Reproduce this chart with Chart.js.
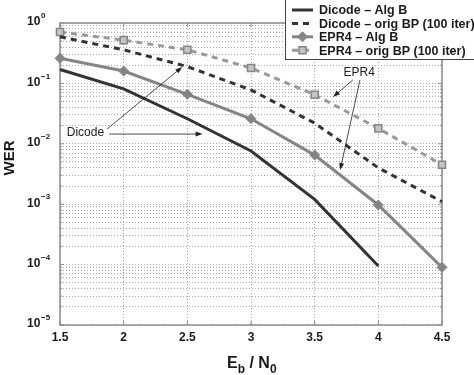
<!DOCTYPE html>
<html>
<head>
<meta charset="utf-8">
<script src="https://cdn.jsdelivr.net/npm/chart.js@4/dist/chart.umd.min.js"></script>
<style>
  html, body { margin: 0; padding: 0; background: #fff; }
  #wrap { width: 474px; height: 375px; position: relative; }
</style>
</head>
<body>
<div id="wrap"><canvas id="c"></canvas></div>
<script>
// Eb/N0 values (x axis)
var ebn0 = [1.5, 2, 2.5, 3, 3.5, 4, 4.5];

// WER per curve
var dicodeAlgB   = [0.17, 0.081, 0.026, 0.0076, 0.0012, 0.000095, null];
var dicodeOrigBP = [0.59, 0.36, 0.19, 0.078, 0.022, 0.004, 0.0011];
var epr4AlgB     = [0.26, 0.16, 0.066, 0.026, 0.0065, 0.00097, 0.00009];
var epr4OrigBP   = [0.71, 0.52, 0.36, 0.18, 0.065, 0.018, 0.0045];

var seriesLabels = [
  "Dicode \u2013 Alg B",
  "Dicode \u2013 orig BP (100 iter)",
  "EPR4 \u2013 Alg B",
  "EPR4 \u2013 orig BP (100 iter)"
];

var xTicks = [1.5, 2, 2.5, 3, 3.5, 4, 4.5];
var yDecades = [-5, -4, -3, -2, -1, 0];   // exponents for 10^k labels

// annotation text + arrows, in data units
var notes = [
  { text: "Dicode", x: 1.70, y: 0.0151 },
  { text: "EPR4",   x: 3.85, y: 0.149 }
];
var arrows = [
  { from: [1.885, 0.0145], to: [2.62, 0.0145] },
  { from: [1.87, 0.0176],  to: [2.46, 0.187] },
  { from: [3.80, 0.114],   to: [3.644, 0.0596] },
  { from: [3.856, 0.114],  to: [3.70, 0.00368] }
];

var DARK = "#333333";
var GRAY = "#858585";
var LGRAY = "#999999";
var FONT = "'Liberation Sans', Arial, sans-serif";

function pts(vals) {
  var out = [];
  for (var i = 0; i < ebn0.length; i++) {
    if (vals[i] != null) out.push({ x: ebn0[i], y: vals[i] });
  }
  return out;
}

// little helper: arrow with filled head
function drawArrow(ctx, x1, y1, x2, y2) {
  var ang = Math.atan2(y2 - y1, x2 - x1);
  var hl = 7, hw = 2.5;
  ctx.beginPath();
  ctx.moveTo(x1, y1);
  ctx.lineTo(x2 - Math.cos(ang) * hl * 0.8, y2 - Math.sin(ang) * hl * 0.8);
  ctx.stroke();
  ctx.beginPath();
  ctx.moveTo(x2, y2);
  ctx.lineTo(x2 - hl * Math.cos(ang) + hw * Math.sin(ang), y2 - hl * Math.sin(ang) - hw * Math.cos(ang));
  ctx.lineTo(x2 - hl * Math.cos(ang) - hw * Math.sin(ang), y2 - hl * Math.sin(ang) + hw * Math.cos(ang));
  ctx.closePath();
  ctx.fill();
}

var decor = {
  id: "decor",
  beforeDatasetsDraw: function(chart) {
    var ctx = chart.ctx, a = chart.chartArea;
    var xs = chart.scales.x, ys = chart.scales.y;
    ctx.save();
    ctx.strokeStyle = "#8c8c8c";
    ctx.lineWidth = 1.5;
    ctx.strokeRect(a.left, a.top, a.right - a.left, a.bottom - a.top);
    // small inward ticks, top and bottom
    ctx.lineWidth = 1;
    xTicks.forEach(function(v) {
      var px = xs.getPixelForValue(v);
      ctx.beginPath();
      ctx.moveTo(px, a.bottom); ctx.lineTo(px, a.bottom - 4);
      ctx.moveTo(px, a.top); ctx.lineTo(px, a.top + 4);
      ctx.stroke();
    });
    ys.ticks.forEach(function(t) {
      var py = ys.getPixelForValue(t.value);
      var len = Math.abs(Math.log10(t.value) % 1) < 1e-9 ? 4 : 2;
      ctx.beginPath();
      ctx.moveTo(a.left, py); ctx.lineTo(a.left + len, py);
      ctx.moveTo(a.right, py); ctx.lineTo(a.right - len, py);
      ctx.stroke();
    });
    ctx.restore();
  },
  afterDraw: function(chart) {
    var ctx = chart.ctx;
    var xs = chart.scales.x, ys = chart.scales.y;
    ctx.save();
    ctx.fillStyle = "#1a1a1a";

    // x tick labels
    ctx.font = "bold 12px " + FONT;
    ctx.textAlign = "center";
    ctx.textBaseline = "middle";
    xTicks.forEach(function(v) {
      ctx.fillText(String(v), xs.getPixelForValue(v), 338);
    });

    // y tick labels 10^k
    yDecades.forEach(function(k) {
      var py = ys.getPixelForValue(Math.pow(10, k));
      ctx.textAlign = "left";
      ctx.font = "bold 12px " + FONT;
      ctx.fillText("10", 27, py - 1);
      ctx.font = "bold 8px " + FONT;
      ctx.fillText(k === 0 ? "0" : "\u2212" + (-k), 41, py - 7);
    });

    // axis titles
    ctx.font = "bold 15px " + FONT;
    ctx.textAlign = "center";
    ctx.save();
    ctx.translate(10, 158);
    ctx.rotate(-Math.PI / 2);
    ctx.fillText("WER", 0, 0);
    ctx.restore();

    ctx.textAlign = "left";
    ctx.textBaseline = "alphabetic";
    var tx = 227, ty = 368;
    ctx.font = "bold 16px " + FONT;
    ctx.fillText("E", tx, ty); tx += ctx.measureText("E").width;
    ctx.font = "bold 12px " + FONT;
    ctx.fillText("b", tx, ty + 5); tx += ctx.measureText("b").width;
    ctx.font = "bold 16px " + FONT;
    ctx.fillText(" / N", tx, ty); tx += ctx.measureText(" / N").width;
    ctx.font = "bold 12px " + FONT;
    ctx.fillText("0", tx, ty + 5);

    // annotations
    ctx.font = "12px " + FONT;
    ctx.textAlign = "center";
    ctx.textBaseline = "middle";
    notes.forEach(function(n) {
      var px = xs.getPixelForValue(n.x), py = ys.getPixelForValue(n.y);
      var w = ctx.measureText(n.text).width;
      ctx.fillStyle = "#fff";
      ctx.fillRect(px - w / 2 - 1, py - 7, w + 2, 14);
      ctx.fillStyle = "#222";
      ctx.fillText(n.text, px, py);
    });
    ctx.strokeStyle = "#222";
    ctx.fillStyle = "#222";
    ctx.lineWidth = 0.8;
    arrows.forEach(function(ar) {
      drawArrow(ctx,
        xs.getPixelForValue(ar.from[0]), ys.getPixelForValue(ar.from[1]),
        xs.getPixelForValue(ar.to[0]), ys.getPixelForValue(ar.to[1]));
    });

    // legend box, top right, overlapping the axes like matlab's
    var lx = 285, ly = -1, lw = 190, lh = 60;
    ctx.fillStyle = "#fff";
    ctx.fillRect(lx, ly, lw, lh);
    ctx.strokeStyle = "#444";
    ctx.lineWidth = 1;
    ctx.strokeRect(lx + 0.5, ly + 0.5, lw, lh);
    ctx.font = "bold 12.5px " + FONT;
    ctx.textAlign = "left";
    chart.data.datasets.forEach(function(ds, i) {
      var ry = 10 + i * 13.4;
      ctx.save();
      ctx.strokeStyle = ds.borderColor;
      ctx.lineWidth = ds.borderWidth;
      ctx.setLineDash(ds.borderDash || []);
      ctx.beginPath();
      ctx.moveTo(292, ry);
      ctx.lineTo(313, ry);
      ctx.stroke();
      ctx.restore();
      if (ds.pointRadius > 0) {
        ctx.save();
        ctx.fillStyle = ds.pointBackgroundColor;
        ctx.strokeStyle = ds.pointBorderColor;
        ctx.lineWidth = ds.pointBorderWidth;
        ctx.beginPath();
        if (ds.pointStyle === "rectRot") {
          var r = ds.pointRadius;
          ctx.moveTo(302.5, ry - r); ctx.lineTo(302.5 + r, ry);
          ctx.lineTo(302.5, ry + r); ctx.lineTo(302.5 - r, ry);
        } else {
          var s = ds.pointRadius * 0.7;
          ctx.rect(302.5 - s, ry - s, 2 * s, 2 * s);
        }
        ctx.closePath();
        ctx.fill();
        ctx.stroke();
        ctx.restore();
      }
      ctx.fillStyle = "#1a1a1a";
      ctx.fillText(ds.label, 319, ry + 1);
    });
    ctx.restore();
  }
};

new Chart(document.getElementById("c"), {
  type: "line",
  data: {
    datasets: [
      {
        label: seriesLabels[0], data: pts(dicodeAlgB),
        borderColor: DARK, borderWidth: 3, pointRadius: 0, tension: 0
      },
      {
        label: seriesLabels[1], data: pts(dicodeOrigBP),
        borderColor: DARK, borderWidth: 3, borderDash: [6, 5], pointRadius: 0, tension: 0
      },
      {
        label: seriesLabels[2], data: pts(epr4AlgB),
        borderColor: GRAY, borderWidth: 3, pointStyle: "rectRot", pointRadius: 5,
        pointBackgroundColor: GRAY, pointBorderColor: GRAY, pointBorderWidth: 1, tension: 0
      },
      {
        label: seriesLabels[3], data: pts(epr4OrigBP),
        borderColor: LGRAY, borderWidth: 3, borderDash: [6, 5], pointStyle: "rect", pointRadius: 5,
        pointBackgroundColor: "#c4c4c4", pointBorderColor: GRAY, pointBorderWidth: 1.5, tension: 0
      }
    ]
  },
  options: {
    responsive: true,
    maintainAspectRatio: false,
    animation: false,
    clip: false,
    layout: { padding: { left: 60, top: 23, right: 32, bottom: 50 } },
    plugins: { legend: { display: false }, tooltip: { enabled: false } },
    scales: {
      x: {
        type: "linear", min: 1.5, max: 4.5,
        ticks: { display: false, stepSize: 0.5 },
        grid: { color: "#aaaaaa", lineWidth: 1, drawTicks: false },
        border: { display: false, dash: [1, 2] }
      },
      y: {
        type: "logarithmic", min: 1e-5, max: 1,
        afterBuildTicks: function(scale) {
          var t = [];
          for (var k = -5; k < 0; k++) {
            for (var m = 1; m < 10; m++) t.push({ value: m * Math.pow(10, k) });
          }
          t.push({ value: 1 });
          scale.ticks = t;
        },
        ticks: { display: false },
        grid: { color: "#aaaaaa", lineWidth: 1, drawTicks: false },
        border: { display: false, dash: [1, 2] }
      }
    }
  },
  plugins: [decor]
});
</script>
</body>
</html>
